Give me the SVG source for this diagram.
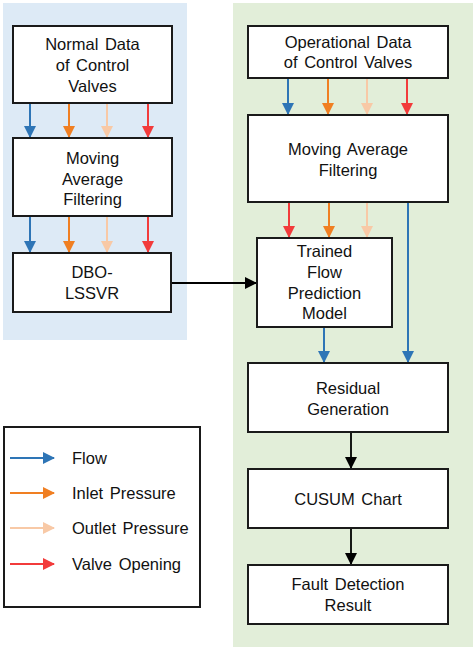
<svg xmlns="http://www.w3.org/2000/svg" width="474" height="648" viewBox="0 0 474 648">
<defs>
<style>
.box{fill:#fff;stroke:#1a1a1a;stroke-width:2}
.t{font-family:"Liberation Sans",Arial,sans-serif;font-size:16.5px;fill:#111;text-anchor:middle;word-spacing:2px}
.lt{font-family:"Liberation Sans",Arial,sans-serif;font-size:16.5px;fill:#111;word-spacing:2px}
.b{stroke:#2E75B6;stroke-width:2;fill:none}
.o{stroke:#F07F22;stroke-width:2;fill:none}
.p{stroke:#F8C9A6;stroke-width:2;fill:none}
.r{stroke:#F23B3B;stroke-width:2;fill:none}
.k{stroke:#000;stroke-width:1.8;fill:none}
</style>
<marker id="mb" markerWidth="12" markerHeight="12" refX="11" refY="6" orient="auto" markerUnits="userSpaceOnUse"><path d="M0,0 L12,6 L0,12 z" fill="#2E75B6"/></marker>
<marker id="mo" markerWidth="12" markerHeight="12" refX="11" refY="6" orient="auto" markerUnits="userSpaceOnUse"><path d="M0,0 L12,6 L0,12 z" fill="#F07F22"/></marker>
<marker id="mp" markerWidth="12" markerHeight="12" refX="11" refY="6" orient="auto" markerUnits="userSpaceOnUse"><path d="M0,0 L12,6 L0,12 z" fill="#F8C9A6"/></marker>
<marker id="mr" markerWidth="12" markerHeight="12" refX="11" refY="6" orient="auto" markerUnits="userSpaceOnUse"><path d="M0,0 L12,6 L0,12 z" fill="#F23B3B"/></marker>
<marker id="mk" markerWidth="12" markerHeight="12" refX="11" refY="6" orient="auto" markerUnits="userSpaceOnUse"><path d="M0,0 L12,6 L0,12 z" fill="#000"/></marker>
</defs>
<rect x="0" y="0" width="474" height="648" fill="#fff"/>
<g id="panels">
<rect x="3" y="3" width="184" height="337" fill="#DDEAF6"/>
<rect x="233" y="3" width="240" height="644" fill="#E2EED9"/>
</g>
<g id="connectors">
<line class="b" x1="30" y1="104" x2="30" y2="137" marker-end="url(#mb)"/>
<line class="o" x1="69" y1="104" x2="69" y2="137" marker-end="url(#mo)"/>
<line class="p" x1="107" y1="104" x2="107" y2="137" marker-end="url(#mp)"/>
<line class="r" x1="148" y1="104" x2="148" y2="137" marker-end="url(#mr)"/>
<line class="b" x1="30" y1="217" x2="30" y2="252" marker-end="url(#mb)"/>
<line class="o" x1="69" y1="217" x2="69" y2="252" marker-end="url(#mo)"/>
<line class="p" x1="107" y1="217" x2="107" y2="252" marker-end="url(#mp)"/>
<line class="r" x1="148" y1="217" x2="148" y2="252" marker-end="url(#mr)"/>
<line class="k" x1="172" y1="283" x2="256" y2="283" marker-end="url(#mk)"/>
<line class="b" x1="288" y1="79" x2="288" y2="114" marker-end="url(#mb)"/>
<line class="o" x1="328" y1="79" x2="328" y2="114" marker-end="url(#mo)"/>
<line class="p" x1="367" y1="79" x2="367" y2="114" marker-end="url(#mp)"/>
<line class="r" x1="407" y1="79" x2="407" y2="114" marker-end="url(#mr)"/>
<line class="r" x1="289" y1="203" x2="289" y2="237" marker-end="url(#mr)"/>
<line class="o" x1="329" y1="203" x2="329" y2="237" marker-end="url(#mo)"/>
<line class="p" x1="367" y1="203" x2="367" y2="237" marker-end="url(#mp)"/>
<line class="b" x1="408" y1="203" x2="408" y2="362" marker-end="url(#mb)"/>
<line class="b" x1="324" y1="328" x2="324" y2="362" marker-end="url(#mb)"/>
<line class="k" x1="351" y1="433" x2="351" y2="468" marker-end="url(#mk)"/>
<line class="k" x1="351" y1="529" x2="351" y2="564" marker-end="url(#mk)"/>
</g>
<g id="normal-data">
<rect class="box" x="13" y="26" width="159" height="77"/>
<text class="t" x="92.5" y="50">Normal Data</text>
<text class="t" x="92.5" y="71">of Control</text>
<text class="t" x="92.5" y="92">Valves</text>
</g>
<g id="maf-left">
<rect class="box" x="13" y="138" width="159" height="78"/>
<text class="t" x="92.5" y="164">Moving</text>
<text class="t" x="92.5" y="185">Average</text>
<text class="t" x="92.5" y="205">Filtering</text>
</g>
<g id="dbo-lssvr">
<rect class="box" x="13" y="253" width="158" height="59"/>
<text class="t" x="92" y="278">DBO-</text>
<text class="t" x="92" y="299">LSSVR</text>
</g>
<g id="operational-data">
<rect class="box" x="248" y="26" width="200" height="52"/>
<text class="t" x="348" y="48">Operational Data</text>
<text class="t" x="348" y="68">of Control Valves</text>
</g>
<g id="maf-right">
<rect class="box" x="248" y="115" width="200" height="87"/>
<text class="t" x="348" y="155">Moving Average</text>
<text class="t" x="348" y="176">Filtering</text>
</g>
<g id="trained-model">
<rect class="box" x="257" y="238" width="135" height="89"/>
<text class="t" x="324.5" y="257">Trained</text>
<text class="t" x="324.5" y="278">Flow</text>
<text class="t" x="324.5" y="299">Prediction</text>
<text class="t" x="324.5" y="319">Model</text>
</g>
<g id="residual">
<rect class="box" x="248" y="363" width="200" height="69"/>
<text class="t" x="348" y="394">Residual</text>
<text class="t" x="348" y="415">Generation</text>
</g>
<g id="cusum">
<rect class="box" x="248" y="469" width="200" height="59"/>
<text class="t" x="348" y="505">CUSUM Chart</text>
</g>
<g id="fault-result">
<rect class="box" x="248" y="565" width="200" height="59"/>
<text class="t" x="348" y="590">Fault Detection</text>
<text class="t" x="348" y="611">Result</text>
</g>
<g id="legend">
<rect class="box" x="4" y="427" width="196" height="180"/>
<line class="b" x1="10" y1="458" x2="54" y2="458" marker-end="url(#mb)"/>
<line class="o" x1="10" y1="493" x2="54" y2="493" marker-end="url(#mo)"/>
<line class="p" x1="10" y1="528" x2="54" y2="528" marker-end="url(#mp)"/>
<line class="r" x1="10" y1="564" x2="54" y2="564" marker-end="url(#mr)"/>
<text class="lt" x="72" y="464">Flow</text>
<text class="lt" x="72" y="499">Inlet Pressure</text>
<text class="lt" x="72" y="534">Outlet Pressure</text>
<text class="lt" x="72" y="570">Valve Opening</text>
</g>
</svg>
